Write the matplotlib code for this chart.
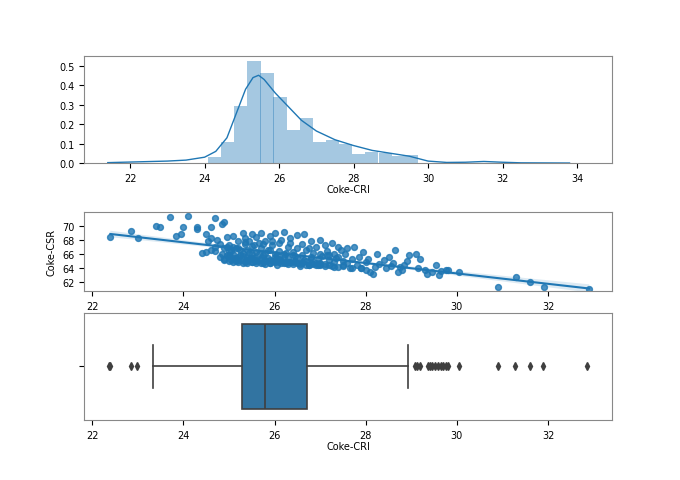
import numpy as np
import matplotlib
matplotlib.use("Agg")
import matplotlib.pyplot as plt
import seaborn as sns

# histogram (density) of Coke-CRI
hist_left = [24.09, 24.44, 24.79, 25.15, 25.50, 25.85, 26.20, 26.55, 26.90, 27.26,
             27.61, 27.96, 28.31, 28.67, 29.02, 29.37]
hist_height = [0.03, 0.11, 0.295, 0.527, 0.464, 0.34, 0.17, 0.233, 0.108, 0.117,
               0.10, 0.045, 0.058, 0.05, 0.035, 0.04]
hist_width = 0.353

kde_x = [21.4, 22.0, 23.0, 23.5, 24.0, 24.3, 24.6, 24.9, 25.1, 25.3, 25.45, 25.6, 25.9,
         26.2, 26.6, 27.0, 27.5, 28.0, 28.5, 29.0, 29.5, 30.0, 30.5, 31.0, 31.5, 32.0,
         32.5, 33.8]
kde_y = [0.002, 0.005, 0.01, 0.015, 0.03, 0.06, 0.13, 0.28, 0.38, 0.44, 0.452, 0.43, 0.36,
         0.30, 0.22, 0.165, 0.12, 0.09, 0.065, 0.05, 0.035, 0.01, 0.003, 0.004, 0.008, 0.004,
         0.001, 0.0]

# scatter Coke-CRI vs Coke-CSR
cri = [22.4, 22.85, 23.0, 23.4, 23.5, 23.7, 23.85, 23.95, 24.0, 24.1, 24.3, 24.3, 24.5, 24.6, 24.7, 24.85, 24.9,
       24.4, 24.5, 24.55, 24.6, 24.6, 24.7, 24.7, 24.75, 24.8, 24.8, 24.85, 24.9, 24.9, 24.95, 24.95, 25.0, 25.0, 25.0,
       25.05, 25.1, 25.1, 25.1, 25.15, 25.2, 25.2, 25.2, 25.25, 25.3, 25.3, 25.3, 25.35, 25.35, 25.4, 25.4, 25.4,
       25.45, 25.45, 25.5, 25.5, 25.5, 25.5,
       25.55, 25.6, 25.6, 25.6, 25.65, 25.7, 25.7, 25.7, 25.75, 25.8, 25.8, 25.8, 25.85, 25.9, 25.9, 25.9, 25.95,
       26.0, 26.0, 26.0,
       26.05, 26.1, 26.1, 26.15, 26.2, 26.2, 26.25, 26.3, 26.3, 26.35, 26.4, 26.4, 26.45, 26.5, 26.5, 26.5,
       26.55, 26.6, 26.6, 26.65, 26.7, 26.7, 26.75, 26.8, 26.8, 26.85, 26.9, 26.9, 26.95, 27.0, 27.0, 27.0,
       27.05, 27.1, 27.1, 27.15, 27.2, 27.25, 27.3, 27.3, 27.35, 27.4, 27.4, 27.45, 27.5, 27.5,
       27.55, 27.6, 27.6, 27.7, 27.75, 27.8, 27.85, 27.9, 27.95, 28.0, 28.0,
       28.05, 28.1, 28.15, 28.2, 28.25, 28.3, 28.4, 28.45, 28.5, 28.55, 28.6, 28.65, 28.7, 28.75, 28.8, 28.85,
       28.9, 28.95,
       29.1, 29.15, 29.2, 29.3, 29.35, 29.45, 29.55, 29.6, 29.65, 29.75, 29.8, 30.05,
       30.9, 31.3, 31.6, 31.9, 32.9,
       25.0, 25.1, 25.2, 25.3, 25.4, 25.5, 25.6, 25.7, 25.8, 25.9, 26.0, 26.1, 26.2, 26.3, 26.4, 26.6, 26.8, 27.0,
       27.2, 27.4, 25.05, 25.25, 25.45, 25.65, 25.85, 26.05, 26.25, 26.45, 26.65, 26.85, 25.15, 25.55, 25.95,
       26.35, 26.75, 27.15, 24.95, 25.35, 25.75, 26.15,
       24.9, 25.0, 25.1, 25.2, 25.3, 25.4, 25.5, 25.6, 25.7, 25.8, 25.9, 26.0, 26.1, 26.2, 26.3, 26.4, 26.5,
       26.6, 26.7, 26.8, 26.9, 27.0, 27.1, 27.2, 27.3, 27.5, 27.7, 27.9, 25.15, 25.35, 25.55, 25.75, 25.95,
       26.15, 26.35, 26.55, 26.75, 26.95, 27.25, 27.65]
csr = [68.4, 69.3, 68.2, 69.9, 69.8, 71.2, 68.5, 68.8, 69.8, 71.4, 69.8, 69.5, 68.8, 69.8, 71.0, 70.2, 70.5,
       66.2, 66.3, 67.8, 68.2, 66.5, 67.0, 66.4, 68.0, 65.6, 67.4, 66.0, 65.3, 66.8, 68.4, 65.9, 67.2, 65.7, 66.4,
       65.2, 66.0, 68.6, 67.0, 65.5, 64.9, 66.8, 67.9, 65.8, 69.0, 66.2, 65.1, 67.4, 68.2, 65.6, 64.8, 66.6,
       67.8, 65.3, 66.0, 68.8, 64.9, 67.1,
       65.5, 66.3, 68.4, 64.7, 67.5, 65.2, 66.8, 69.0, 65.9, 64.6, 67.9, 66.1, 65.4, 68.5, 66.6, 64.8, 67.2,
       65.6, 66.0, 68.9,
       64.5, 66.4, 67.6, 65.2, 69.1, 66.0, 64.8, 67.0, 65.5, 68.2, 66.3, 64.6, 65.0, 68.7, 66.8, 65.4,
       64.3, 67.4, 65.8, 68.8, 65.0, 66.5, 64.5, 67.8, 65.6, 66.2, 64.8, 67.0, 65.3, 68.0, 64.4, 66.0,
       65.7, 67.3, 64.6, 66.4, 65.1, 67.6, 64.9, 66.0, 65.5, 67.0, 64.2, 66.5, 65.0, 64.5,
       66.0, 66.8, 64.8, 65.3, 67.0, 64.5, 65.6, 64.0, 66.3, 63.8, 64.9,
       65.3, 63.4, 63.2, 64.2, 66.0, 64.6, 65.2, 64.0, 65.6, 64.3, 64.8, 66.5, 63.4, 64.2, 63.7, 64.5,
       65.0, 65.8,
       66.0, 64.0, 65.3, 63.8, 63.2, 63.4, 64.4, 63.0, 63.6, 63.7, 63.8, 63.5,
       61.3, 62.7, 62.0, 61.3, 61.1,
       65.9, 65.4, 65.6, 65.7, 65.2, 65.5, 65.0, 65.4, 65.2, 65.1, 64.9, 65.3, 65.6, 64.9, 65.8, 64.9, 65.3, 64.7,
       65.9, 65.6, 66.4, 66.6, 66.1, 66.0, 66.5, 65.9, 66.1, 65.7, 65.1, 64.6, 66.9, 67.3, 67.8,
       67.6, 66.9, 65.8, 67.0, 67.7, 67.4, 68.0,
       65.2, 65.0, 64.9, 65.1, 64.8, 65.0, 64.9, 65.2, 64.8, 65.0, 64.7, 65.1, 64.9, 64.8, 64.6, 64.9, 64.7,
       64.8, 64.5, 64.7, 64.4, 64.6, 64.3, 64.5, 64.2, 64.3, 64.1, 64.0, 65.0, 64.9, 65.1, 64.8, 65.0,
       64.7, 64.9, 64.6, 64.5, 64.4, 64.3, 64.1]

# boxplot statistics
box_q1, box_med, box_q3 = 25.28, 25.79, 26.72
whis_lo, whis_hi = 23.34, 28.93
fliers = [22.38, 22.4, 22.85, 22.98, 29.07, 29.13, 29.18, 29.36, 29.41, 29.46, 29.52, 29.58, 29.64,
          29.7, 29.76, 29.81, 30.05, 30.9, 31.28, 31.6, 31.88, 32.85]

plt.rcParams["font.size"] = 7
fig = plt.figure(figsize=(6.8, 4.81), dpi=100)
ax1 = fig.add_axes([0.124, 0.659, 0.776, 0.222])
ax2 = fig.add_axes([0.124, 0.393, 0.776, 0.164])
ax3 = fig.add_axes([0.124, 0.125, 0.776, 0.222])

blue = "#1f77b4"
ax1.bar(hist_left, hist_height, width=hist_width, align="edge", color=blue, alpha=0.4,
        linewidth=0, edgecolor="none")
ax1.plot(kde_x, kde_y, color=blue, lw=1)
ax1.set_xlim(20.77, 34.94)
ax1.set_ylim(0, 0.55)
ax1.set_yticks([0, 0.1, 0.2, 0.3, 0.4, 0.5])
ax1.set_xlabel("Coke-CRI", labelpad=1)

sns.regplot(x=np.array(cri), y=np.array(csr), ax=ax2, color=blue, seed=0,
            scatter_kws={"s": 18}, line_kws={"lw": 1.5})
ax2.set_xlim(21.83, 33.4)
ax2.set_ylim(60.8, 71.9)
ax2.set_yticks([62, 64, 66, 68, 70])
ax2.set_xlabel("Coke-CRI", labelpad=1)
ax2.set_ylabel("Coke-CSR")

stats = [dict(med=box_med, q1=box_q1, q3=box_q3, whislo=whis_lo, whishi=whis_hi, fliers=fliers)]
ax3.bxp(stats, vert=False, widths=0.8, patch_artist=True, capwidths=0.4,
        boxprops=dict(facecolor="#3274a1", edgecolor="#3f3f3f", lw=1.2),
        medianprops=dict(color="#3f3f3f", lw=1.2),
        whiskerprops=dict(color="#3f3f3f", lw=1.2),
        capprops=dict(color="#3f3f3f", lw=1.2),
        flierprops=dict(marker="d", markersize=4, markerfacecolor="#3f3f3f", markeredgecolor="#3f3f3f"))
ax3.set_ylim(1.5, 0.5)
ax3.set_yticks([1])
ax3.set_yticklabels([""])
ax3.set_xlim(21.83, 33.4)
ax3.set_xticks([22, 24, 26, 28, 30, 32])
ax3.set_xticklabels(["22", "24", "26", "28", "30", "32"])
ax3.set_xlabel("Coke-CRI", labelpad=1)

for ax in (ax1, ax2, ax3):
    for s in ax.spines.values():
        s.set_color("#888888")

fig.savefig("out.png")
